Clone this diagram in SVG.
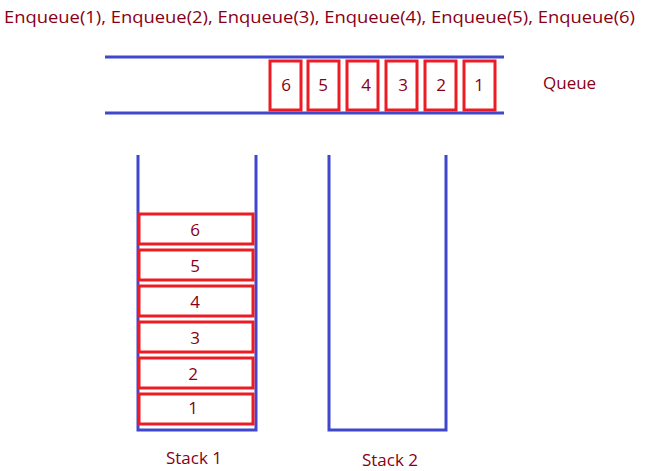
<svg xmlns="http://www.w3.org/2000/svg" width="645" height="471" viewBox="0 0 645 471">
<style>
.w{stroke:#3f48cc;stroke-width:3;fill:none}
.b{stroke:#ed1c24;stroke-width:3;fill:#fff}
text{font-family:"Open Sans","Liberation Sans",sans-serif;font-size:17px;fill:#880015}
.c{text-anchor:middle}
</style>
<rect width="645" height="471" fill="#fff"/>
<text x="4" y="23" font-size="18" textLength="631" lengthAdjust="spacingAndGlyphs">Enqueue(1), Enqueue(2), Enqueue(3), Enqueue(4), Enqueue(5), Enqueue(6)</text>
<g id="queue">
<line class="w" x1="105" y1="57" x2="504" y2="57"/>
<line class="w" x1="105" y1="113" x2="504" y2="113"/>
<rect class="b" x="270" y="61" width="31" height="49"/><text class="c" x="286" y="91">6</text>
<rect class="b" x="308" y="61" width="31" height="49"/><text class="c" x="323" y="91">5</text>
<rect class="b" x="347" y="61" width="31" height="49"/><text class="c" x="366" y="91">4</text>
<rect class="b" x="386" y="61" width="31" height="49"/><text class="c" x="403" y="91">3</text>
<rect class="b" x="425" y="61" width="31" height="49"/><text class="c" x="441" y="91">2</text>
<rect class="b" x="464" y="61" width="31" height="49"/><text class="c" x="479" y="91">1</text>
<text x="543" y="89">Queue</text>
</g>
<g id="stack1">
<polyline class="w" points="138,155 138,430 256,430 256,155"/>
<rect class="b" x="139" y="214" width="114" height="30"/><text class="c" x="195" y="236">6</text>
<rect class="b" x="139" y="250" width="114" height="30"/><text class="c" x="195" y="272">5</text>
<rect class="b" x="139" y="286" width="114" height="30"/><text class="c" x="195" y="308">4</text>
<rect class="b" x="139" y="322" width="114" height="30"/><text class="c" x="195" y="344">3</text>
<rect class="b" x="139" y="358" width="114" height="30"/><text class="c" x="193" y="380">2</text>
<rect class="b" x="139" y="394" width="114" height="30"/><text class="c" x="193" y="414">1</text>
<text class="c" x="194" y="464">Stack 1</text>
</g>
<g id="stack2">
<polyline class="w" points="329,155 329,430 446,430 446,155"/>
<text class="c" x="390" y="466">Stack 2</text>
</g>
<g id="connectors"/>
</svg>
